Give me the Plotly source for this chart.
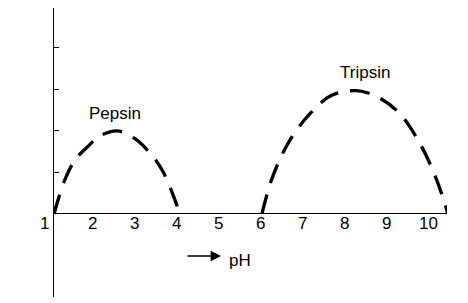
import plotly.graph_objects as go

# Data
pepsin_ph = [1.0, 1.25, 1.5, 1.8, 2.1, 2.5, 2.9, 3.3, 3.6, 4.0]
pepsin_act = [0.0, 0.8, 1.3, 1.62, 1.88, 2.0, 1.83, 1.45, 1.01, 0.0]
tripsin_ph = [5.95, 6.2, 6.6, 7.1, 7.6, 8.2, 8.7, 9.2, 9.7, 10.1, 10.38]
tripsin_act = [0.0, 0.88, 1.75, 2.42, 2.85, 2.97, 2.82, 2.45, 1.72, 0.85, 0.0]
x_tick_vals = [1, 2, 3, 4, 5, 6, 7, 8, 9, 10]
x_tick_labels = ["1", "2", "3", "4", "5", "6", "7", "8", "9", "10"]
y_tick_vals = [1, 2, 3, 4]

FONT = "Liberation Sans, Arial, sans-serif"
FS = 17
line_style = dict(color="black", width=3.3, dash="20px,12px", shape="spline")

fig = go.Figure()
fig.add_trace(go.Scatter(x=pepsin_ph, y=pepsin_act, mode="lines", line=line_style,
                         name="Pepsin", hoverinfo="skip"))
fig.add_trace(go.Scatter(x=tripsin_ph, y=tripsin_act, mode="lines", line=line_style,
                         name="Tripsin", hoverinfo="skip"))

annotations = []
for v, lab in zip(x_tick_vals, x_tick_labels):
    annotations.append(dict(x=v, y=0, xref="x", yref="y", text=lab, showarrow=False,
                            xanchor="center", yanchor="middle",
                            xshift=-10 if v == 1 else -4, yshift=-10,
                            font=dict(family=FONT, size=FS, color="black")))
annotations += [
    dict(x=2.46, y=2.41, xref="x", yref="y", text="Pepsin", showarrow=False,
         font=dict(family=FONT, size=FS, color="black")),
    dict(x=8.40, y=3.40, xref="x", yref="y", text="Tripsin", showarrow=False,
         font=dict(family=FONT, size=FS, color="black")),
    dict(x=0.5, y=2.48, xref="x", yref="y", text="Aktivitas", showarrow=False,
         textangle=-90, font=dict(family=FONT, size=FS, color="black")),
    dict(x=5.43, y=-1.11, xref="x", yref="y", text="pH", showarrow=False,
         font=dict(family=FONT, size=FS, color="black")),
    dict(x=4.98, y=-1.01, ax=4.14, ay=-1.01, xref="x", yref="y", axref="x", ayref="y",
         text="", showarrow=True, arrowhead=2, arrowsize=1.4, arrowwidth=1.5,
         arrowcolor="black"),
]

fig.update_layout(
    width=468, height=303,
    margin=dict(l=54, r=21, t=8, b=6),
    paper_bgcolor="white", plot_bgcolor="white",
    showlegend=False,
    annotations=annotations,
    xaxis=dict(range=[1, 1 + 393 / 42], showgrid=False, zeroline=False,
               showline=False, showticklabels=False, ticks=""),
    yaxis=dict(range=[-2.0, 4.96], showgrid=False, zeroline=True,
               zerolinecolor="black", zerolinewidth=1,
               showline=True, linecolor="black", linewidth=1,
               tickvals=y_tick_vals, ticks="inside", ticklen=5, tickcolor="black",
               showticklabels=False),
)

fig.write_html("out.html")
